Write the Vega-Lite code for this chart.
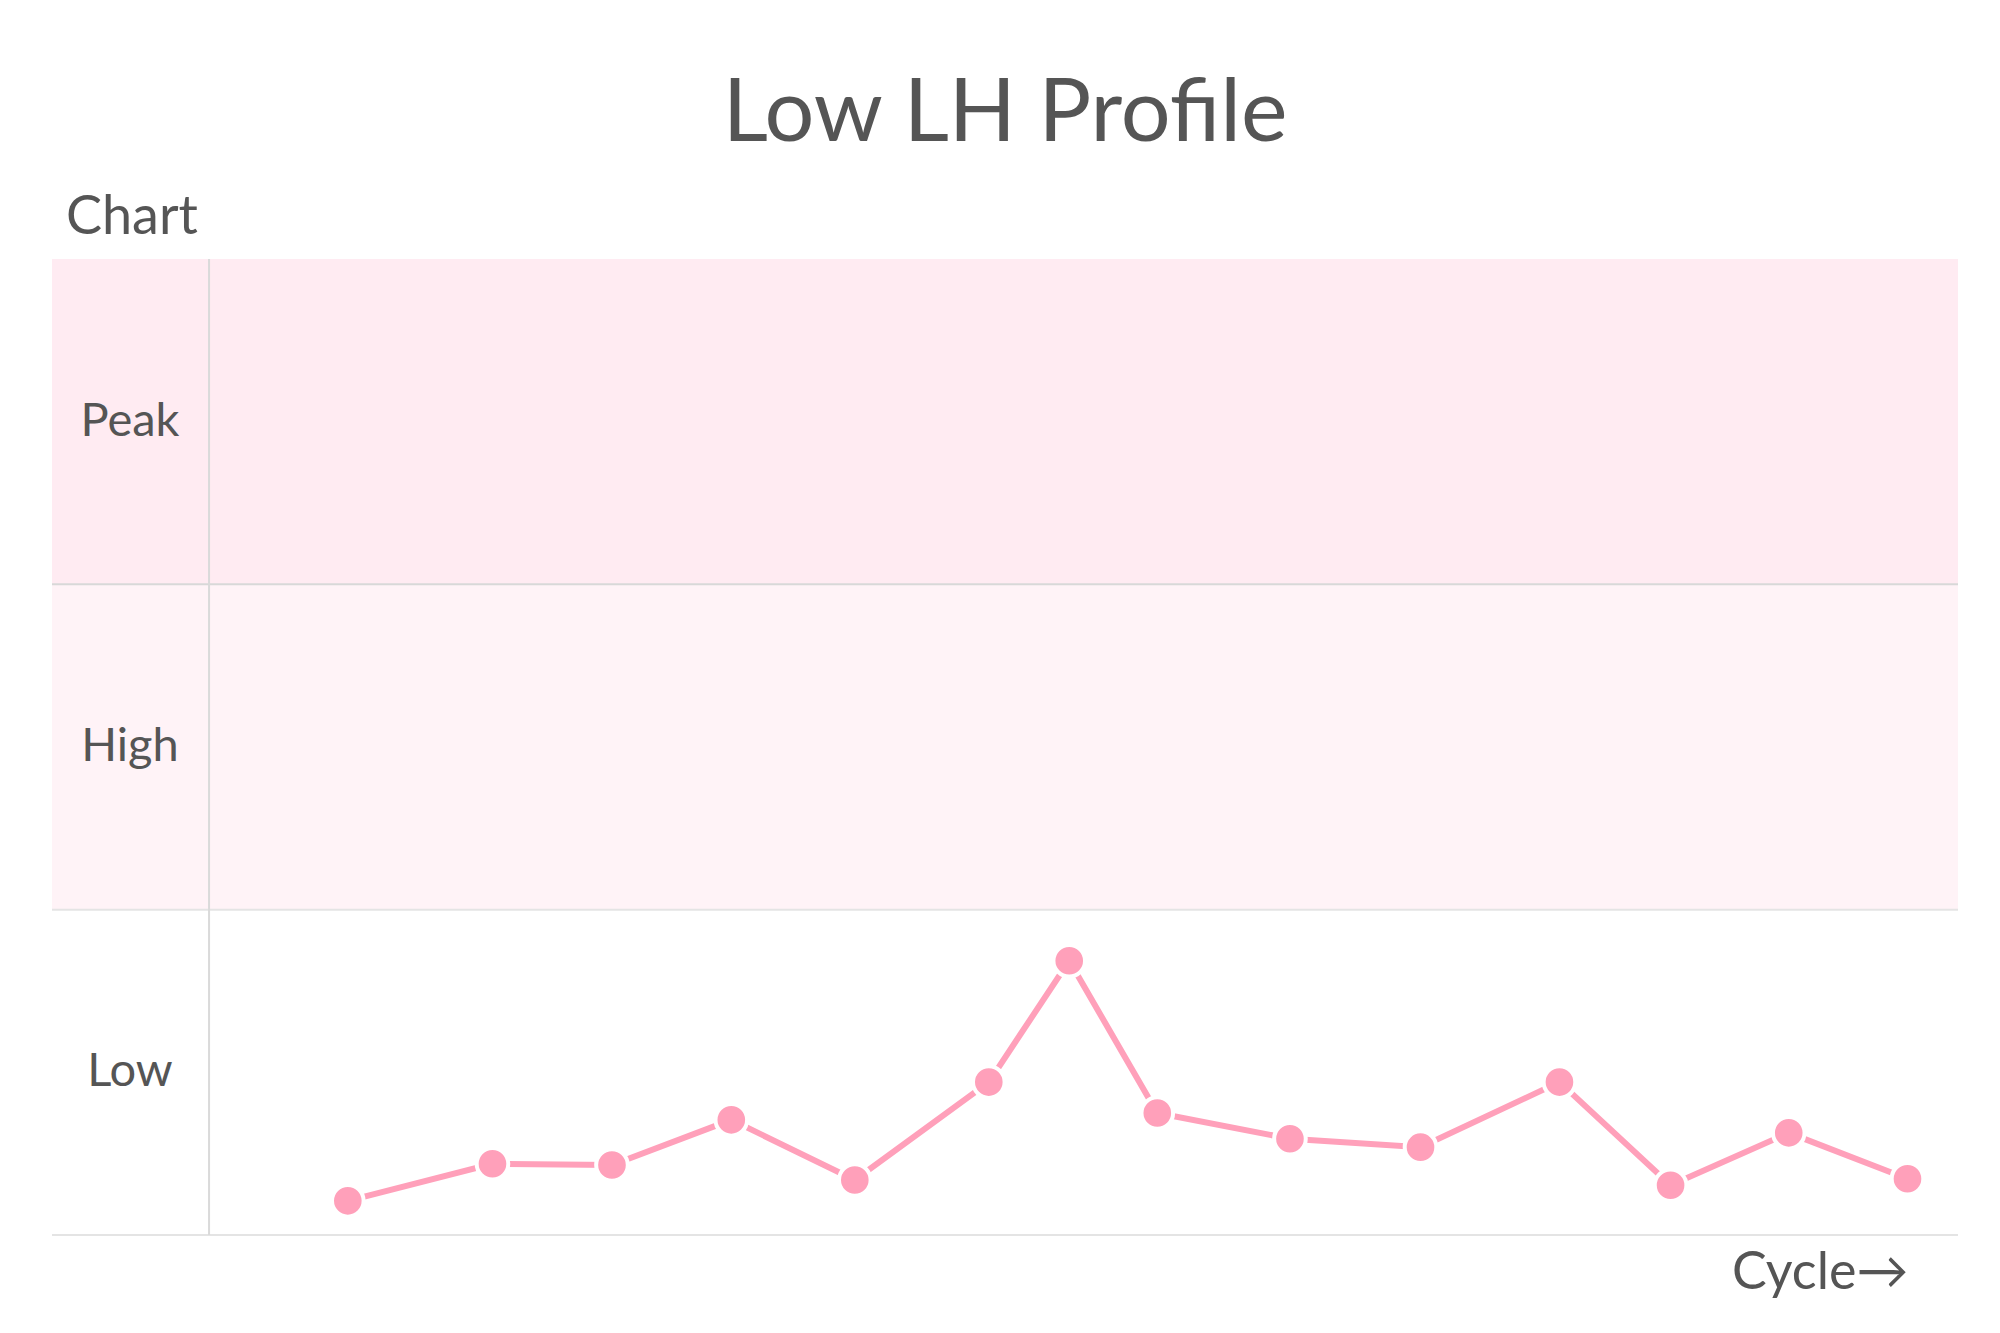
{
  "$schema": "https://vega.github.io/schema/vega-lite/v6.json",
  "width": 1906,
  "height": 976,
  "autosize": "none",
  "padding": {"left": 52, "top": 259, "right": 42, "bottom": 98},
  "background": "white",
  "config": {"view": {"stroke": null}, "font": "Lato"},
  "title": {
    "text": "Low LH Profile",
    "font": "Lato",
    "fontSize": 88,
    "fontWeight": "normal",
    "color": "#555555",
    "anchor": "middle",
    "offset": 32
  },
  "datasets": {
    "bands": [
      {"level": "Peak", "lo": 2, "hi": 3, "mid": 2.5},
      {"level": "High", "lo": 1, "hi": 2, "mid": 1.5},
      {"level": "Low", "lo": 0, "hi": 1, "mid": 0.5}
    ],
    "lines": [
      {"at": 0, "kind": "base"},
      {"at": 1, "kind": "low"},
      {"at": 2, "kind": "high"}
    ],
    "readings": [
      {"day": 15.52, "lh": 0.105},
      {"day": 23.11, "lh": 0.219},
      {"day": 29.38, "lh": 0.215},
      {"day": 35.64, "lh": 0.354},
      {"day": 42.12, "lh": 0.169},
      {"day": 49.15, "lh": 0.470},
      {"day": 53.37, "lh": 0.843},
      {"day": 57.99, "lh": 0.375},
      {"day": 64.95, "lh": 0.296},
      {"day": 71.80, "lh": 0.270},
      {"day": 79.09, "lh": 0.470},
      {"day": 84.92, "lh": 0.153},
      {"day": 91.12, "lh": 0.314},
      {"day": 97.35, "lh": 0.173}
    ]
  },
  "layer": [
    {
      "data": {"name": "bands"},
      "mark": {"type": "rect"},
      "encoding": {
        "x": {"datum": 0, "type": "quantitative", "scale": {"domain": [0, 100], "nice": false, "zero": false}, "axis": null},
        "x2": {"datum": 100},
        "y": {"field": "lo", "type": "quantitative", "scale": {"domain": [0, 3], "nice": false}, "axis": null},
        "y2": {"field": "hi"},
        "fill": {"field": "level", "type": "nominal", "scale": {"domain": ["Peak", "High", "Low"], "range": ["#ffebf2", "#fff3f7", "#ffffff"]}, "legend": null}
      }
    },
    {
      "data": {"name": "lines"},
      "mark": {"type": "rule", "strokeWidth": 2},
      "encoding": {
        "y": {"field": "at", "type": "quantitative"},
        "stroke": {"field": "kind", "type": "nominal", "scale": {"domain": ["base", "low", "high"], "range": ["#e4e4e4", "#e4e4e4", "#d8d8d8"]}, "legend": null}
      }
    },
    {
      "data": {"values": [{"edge": 8.24}]},
      "mark": {"type": "rule", "strokeWidth": 2, "color": "#dadada"},
      "encoding": {
        "x": {"field": "edge", "type": "quantitative"},
        "y": {"datum": 0, "type": "quantitative"},
        "y2": {"datum": 3}
      }
    },
    {
      "data": {"name": "bands"},
      "mark": {"type": "text", "fontSize": 47, "color": "#555555", "align": "center", "baseline": "middle"},
      "encoding": {
        "x": {"datum": 4.09, "type": "quantitative"},
        "y": {"field": "mid", "type": "quantitative"},
        "text": {"field": "level"}
      }
    },
    {
      "data": {"name": "readings"},
      "mark": {"type": "line", "color": "#ffa0ba", "strokeWidth": 6, "strokeCap": "round"},
      "encoding": {
        "x": {"field": "day", "type": "quantitative"},
        "y": {"field": "lh", "type": "quantitative"}
      }
    },
    {
      "data": {"name": "readings"},
      "mark": {"type": "point", "shape": "circle", "filled": true, "size": 1000, "fill": "#ffa0ba", "stroke": "#ffffff", "strokeWidth": 4, "opacity": 1},
      "encoding": {
        "x": {"field": "day", "type": "quantitative"},
        "y": {"field": "lh", "type": "quantitative"}
      }
    },
    {
      "data": {"values": [{"label": "Chart"}]},
      "mark": {"type": "text", "fontSize": 54, "color": "#555555", "align": "left", "baseline": "alphabetic"},
      "encoding": {
        "x": {"datum": 0.73, "type": "quantitative"},
        "y": {"datum": 3.077, "type": "quantitative"},
        "text": {"field": "label"}
      }
    },
    {
      "data": {"values": [{"label": "Cycle→"}]},
      "mark": {"type": "text", "fontSize": 52, "color": "#555555", "align": "right", "baseline": "alphabetic"},
      "encoding": {
        "x": {"datum": 97.4, "type": "quantitative"},
        "y": {"datum": -0.166, "type": "quantitative"},
        "text": {"field": "label"}
      }
    }
  ]
}
